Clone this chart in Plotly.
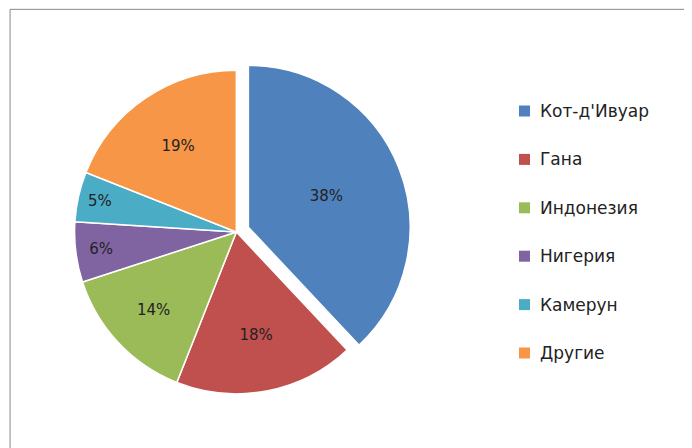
import plotly.graph_objects as go

labels = ["Кот-д'Ивуар", "Гана", "Индонезия", "Нигерия", "Камерун", "Другие"]
values = [38, 18, 14, 6, 5, 19]
colors = ["#4F81BD", "#C0504D", "#9BBB59", "#8064A2", "#4BACC6", "#F79646"]
pulls = [0.08, 0, 0, 0, 0, 0]

fig = go.Figure(go.Pie(
    labels=labels, values=values, sort=False, direction="clockwise", rotation=0,
    marker=dict(colors=colors, line=dict(color="white", width=1.5)),
    pull=pulls, texttemplate="%{value}%",
    textposition="inside", insidetextorientation="horizontal",
    textfont=dict(size=15, color="#222222", family="DejaVu Sans"),
    domain=dict(x=[0.06, 0.60], y=[0.11, 0.89]),
    showlegend=False,
))

shapes = [
    dict(type="rect", xref="paper", yref="paper", x0=0.003, x1=0.994, y0=0.006, y1=0.997,
         line=dict(color="#888888", width=1)),
    dict(type="line", xref="paper", yref="paper", x0=683/692, x1=683/692, y0=0, y1=1,
         line=dict(color="#E8E000", width=2)),
]
annotations = []
y_top, step = 103, 48.4
for i, (lab, col) in enumerate(zip(labels, colors)):
    yp = y_top + i * step
    yc = 1 - yp / 448
    shapes.append(dict(type="rect", xref="paper", yref="paper",
                       x0=511/692, x1=522/692, y0=yc - 5.5/448, y1=yc + 5.5/448,
                       fillcolor=col, line=dict(width=0)))
    annotations.append(dict(xref="paper", yref="paper", x=530/692, y=yc, text=lab,
                            showarrow=False, xanchor="left", yanchor="middle",
                            font=dict(size=17, color="#222222", family="DejaVu Sans")))

fig.update_layout(
    width=692, height=448, margin=dict(l=0, r=0, t=0, b=0),
    paper_bgcolor="white", plot_bgcolor="white",
    shapes=shapes, annotations=annotations,
)
fig.write_html("out.html")
